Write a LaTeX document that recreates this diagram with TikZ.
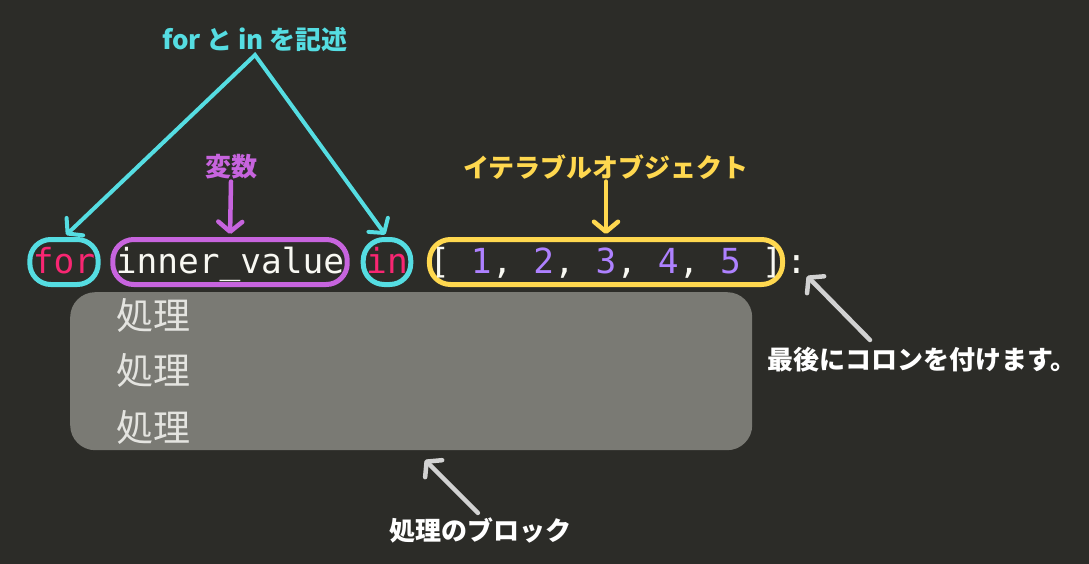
\documentclass[tikz,border=0pt]{standalone}
\usepackage{fontspec}
\newfontfamily\jpfont{Noto Sans CJK JP}
\newfontfamily\codefont{DejaVu Sans Mono}
\usetikzlibrary{arrows.meta}

\begin{document}
\begin{tikzpicture}[x=1pt,y=-1pt,
	barb/.tip={Straight Barb[round,length=10pt,width=24pt]},
	codebox/.style={draw,line width=5pt,rounded corners=21pt,minimum height=45pt,inner xsep=3pt,inner ysep=0pt,text height=27pt,text depth=5pt,text=codewhite,font=\codefont\fontsize{34.5}{34.5}\selectfont},
	tag/.style={inner sep=2pt,font=\jpfont\bfseries\fontsize{26}{26}\selectfont},
	pointer/.style={line width=4.5pt,line cap=round,line join=round,-barb},
	job/.style={anchor=west,text=jobwhite,font=\jpfont\fontsize{37}{37}\selectfont}]
					\definecolor{bgdark}{HTML}{2C2C28}
					\definecolor{forcyan}{HTML}{55DDE2}
					\definecolor{varpurple}{HTML}{C764DE}
					\definecolor{iteryellow}{HTML}{FFD84F}
					\definecolor{kwpink}{HTML}{F92672}
					\definecolor{numpurple}{HTML}{AE81FF}
					\definecolor{codewhite}{HTML}{F8F8F2}
					\definecolor{blockgrey}{HTML}{7A7A74}
					\definecolor{jobwhite}{HTML}{E4E4E0}
					\definecolor{notegrey}{HTML}{D2D2D2}
					\fill[bgdark] (0,0) rectangle (1089,564);
					\useasboundingbox (0,0) rectangle (1089,564);

					\node[codebox,draw=forcyan,text=kwpink] (kwfor) at (64,262) {for};
					\node[codebox,draw=varpurple] (kwvar) at (230,262) {inner\_value};
					\node[codebox,draw=forcyan,text=kwpink] (kwin) at (387,262) {in};
					\node[codebox,draw=iteryellow,inner xsep=0pt] (iter) at (606,262) {[ \textcolor{numpurple}{1}, \textcolor{numpurple}{2}, \textcolor{numpurple}{3}, \textcolor{numpurple}{4}, \textcolor{numpurple}{5} ]};
					\node[anchor=base west,inner sep=0pt,text=codewhite,font=\codefont\fontsize{34.5}{34.5}\selectfont] (colon) at (786,273) {:};

					\node[fill=blockgrey,rounded corners=25pt,minimum width=682pt,minimum height=158pt,inner sep=0pt,anchor=north west] (block) at (70,292) {};
					\node[job] (job1) at (113,315) {処理};
					\node[job] (job2) at (113,370) {処理};
					\node[job] (job3) at (113,427) {処理};

					\node[tag,text=forcyan] (forlbl) at (255,40) {for と in を記述};
					\coordinate (apex) at (255,55);
					\draw[pointer,forcyan,line width=4pt,barb-barb,line join=miter,shorten <=3pt,shorten >=3pt] (kwfor.north) -- (apex) -- (kwin.north);

					\node[tag,text=varpurple] (varlbl) at (231,167) {変数};
					\draw[pointer,varpurple,shorten >=3pt] (varlbl.south) -- (kwvar.north);

					\node[tag,text=iteryellow] (iterlbl) at (606,167) {イテラブルオブジェクト};
					\draw[pointer,iteryellow,shorten >=3pt] (iterlbl.south) -- (iter.north);

					\node[tag,text=white] (colonlbl) at (922,360) {最後にコロンを付けます。};
					\coordinate (colontail) at (870,340);
					\coordinate (colontip) at (807,276);
					\draw[pointer,notegrey] (colontail) -- (colontip);

					\node[tag,text=white] (blocklbl) at (480,530) {処理のブロック};
					\coordinate (blocktip) at (425,460);
					\draw[pointer,notegrey,shorten <=3pt] (blocklbl.north) -- (blocktip);
				\end{tikzpicture}
\end{document}
